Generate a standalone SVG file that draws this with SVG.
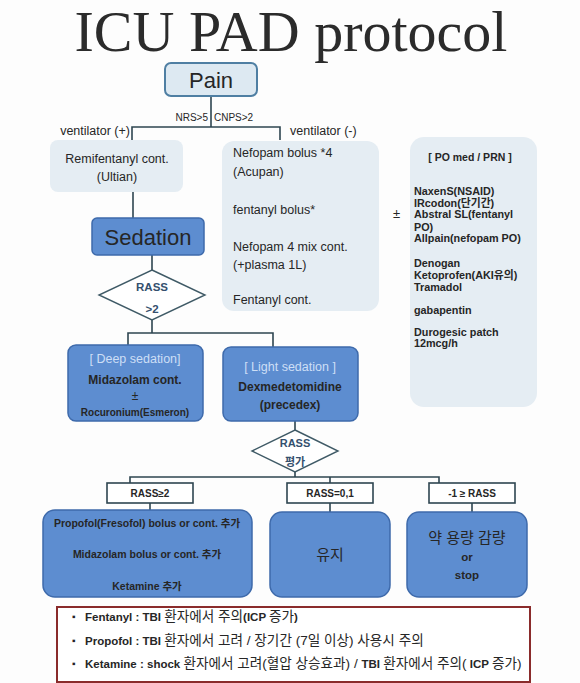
<svg xmlns="http://www.w3.org/2000/svg" width="580" height="683" viewBox="0 0 580 683">
<style>
.t{font-family:"Liberation Sans","Noto Sans CJK KR",sans-serif;fill:#262626}
.b{font-weight:bold}
.c{text-anchor:middle}
.ln{stroke:#2e4550;stroke-width:1.6;fill:none}
.light{fill:#e5edf3}
.blue{fill:#5d8dd0;stroke:#3e6aab;stroke-width:1.5}
.dia{fill:#fff;stroke:#3f5a66;stroke-width:1.4}
.cond{fill:#fff;stroke:#2e4550;stroke-width:1.6}
.k{font-weight:normal;font-size:13.6px}
</style>
<rect width="580" height="683" fill="#fdfdfd"/>
<text x="291" y="51" text-anchor="middle" font-family="Liberation Serif,serif" font-size="58" fill="#2b2b2b">ICU PAD protocol</text>

<g id="connectors">
<path class="ln" d="M211 96V127M132 140V127H280V140"/>
<path class="ln" d="M133 192V218"/>
<path class="ln" d="M152 255V270"/>
<path class="ln" d="M152 320V333M128 345V333H273V347"/>
<path class="ln" d="M295 421V430"/>
<path class="ln" d="M295 472V477M130 483V477H439V483M330 477V483"/>
<path class="ln" d="M150 503V510M330 503V512M472 503V512"/>
</g>

<g id="pain">
<rect x="165" y="63" width="92" height="33" rx="6" fill="#dde9f2" stroke="#4f7fa3" stroke-width="2"/>
<text class="t c" x="211" y="88" font-size="22">Pain</text>
</g>
<g id="labels">
<text class="t" x="208" y="121" font-size="10" text-anchor="end">NRS&gt;5</text>
<text class="t" x="214" y="121" font-size="10">CNPS&gt;2</text>
<text class="t" x="130" y="135" font-size="12.5" text-anchor="end">ventilator (+)</text>
<text class="t" x="290" y="135" font-size="12.5">ventilator (-)</text>
<text class="t" x="393" y="218" font-size="13">±</text>
</g>
<g id="remi">
<rect class="light" x="50" y="140" width="133" height="52" rx="8"/>
<text class="t c" x="117" y="163" font-size="12.5">Remifentanyl cont.</text>
<text class="t c" x="117" y="181" font-size="12.5">(Ultian)</text>
</g>
<g id="nefopam">
<rect class="light" x="222" y="141" width="157" height="170" rx="12"/>
<text class="t" x="233" y="157" font-size="12.5">Nefopam bolus *4</text>
<text class="t" x="233" y="176" font-size="12.5">(Acupan)</text>
<text class="t" x="233" y="214" font-size="12.5">fentanyl bolus*</text>
<text class="t" x="233" y="251" font-size="12.5">Nefopam 4 mix cont.</text>
<text class="t" x="233" y="269" font-size="12.5">(+plasma 1L)</text>
<text class="t" x="233" y="304" font-size="12.5">Fentanyl cont.</text>
</g>
<g id="po">
<rect class="light" x="410" y="137" width="127" height="270" rx="14"/>
<text class="t b c" x="470" y="161" font-size="10.5">[ PO med / PRN ]</text>
<text class="t b" x="414" y="195" font-size="10.8">NaxenS(NSAID)</text>
<text class="t b" x="414" y="207" font-size="10.8">IRcodon(단기간)</text>
<text class="t b" x="414" y="218" font-size="10.8">Abstral SL(fentanyl</text>
<text class="t b" x="414" y="231" font-size="10.8">PO)</text>
<text class="t b" x="414" y="242" font-size="10.8">Allpain(nefopam PO)</text>
<text class="t b" x="414" y="267" font-size="10.8">Denogan</text>
<text class="t b" x="414" y="279" font-size="10.8">Ketoprofen(AKI유의)</text>
<text class="t b" x="414" y="291" font-size="10.8">Tramadol</text>
<text class="t b" x="414" y="314" font-size="10.8">gabapentin</text>
<text class="t b" x="414" y="336" font-size="10.8">Durogesic patch</text>
<text class="t b" x="414" y="347" font-size="10.8">12mcg/h</text>
</g>
<g id="sedation">
<rect class="blue" x="92" y="218" width="112" height="37" rx="5"/>
<text class="t c" x="148" y="245" font-size="22" fill="#1f2a3a">Sedation</text>
</g>
<g id="rass1">
<polygon class="dia" points="152,270 205,295 152,320 99,295"/>
<text class="t b c" x="152" y="291" font-size="11.5" style="fill:#34506e">RASS</text>
<text class="t b c" x="152" y="313" font-size="11.5" style="fill:#34506e">&gt;2</text>
</g>
<g id="deep">
<rect class="blue" x="68" y="345" width="135" height="76" rx="8"/>
<text class="t c" x="135" y="363" font-size="12.5" style="fill:#cddff6">[ Deep sedation]</text>
<text class="t b c" x="135" y="384" font-size="12">Midazolam cont.</text>
<text class="t c" x="135" y="400" font-size="12">±</text>
<text class="t b c" x="135" y="416" font-size="10">Rocuronium(Esmeron)</text>
</g>
<g id="light">
<rect class="blue" x="223" y="347" width="135" height="74" rx="8"/>
<text class="t c" x="290" y="371" font-size="12.5" style="fill:#cddff6">[ Light sedation ]</text>
<text class="t b c" x="290" y="391" font-size="12">Dexmedetomidine</text>
<text class="t b c" x="290" y="409" font-size="12">(precedex)</text>
</g>
<g id="rass2">
<polygon class="dia" points="295,430 338,451 295,472 252,451"/>
<text class="t b c" x="295" y="447" font-size="11" style="fill:#34506e">RASS</text>
<text class="t b c" x="295" y="466" font-size="11" style="fill:#34506e">평가</text>
</g>
<g id="cond1">
<rect class="cond" x="107" y="483" width="86" height="20"/>
<text class="t b c" x="150" y="497" font-size="10">RASS≥2</text>
</g>
<g id="cond2">
<rect class="cond" x="287" y="483" width="86" height="20"/>
<text class="t b c" x="330" y="497" font-size="10">RASS=0,1</text>
</g>
<g id="cond3">
<rect class="cond" x="429" y="483" width="86" height="20"/>
<text class="t b c" x="472" y="497" font-size="10">-1 ≥ RASS</text>
</g>
<g id="add">
<rect class="blue" x="43" y="510" width="209" height="87" rx="12"/>
<text class="t b c" x="147" y="527" font-size="10.5">Propofol(Fresofol) bolus or cont. 추가</text>
<text class="t b c" x="147" y="558" font-size="10.5">Midazolam bolus or cont. 추가</text>
<text class="t b c" x="147" y="590" font-size="10.5">Ketamine 추가</text>
</g>
<g id="keep">
<rect class="blue" x="270" y="512" width="120" height="85" rx="12"/>
<text class="t c" x="330" y="560" font-size="15">유지</text>
</g>
<g id="reduce">
<rect class="blue" x="407" y="512" width="120" height="85" rx="12"/>
<text class="t c" x="467" y="543" font-size="15">약 용량 감량</text>
<text class="t b c" x="467" y="561" font-size="11.5">or</text>
<text class="t b c" x="467" y="579" font-size="11.5">stop</text>
</g>
<g id="notes">
<rect x="57" y="607" width="473" height="75" fill="#fff" stroke="#8a2b2b" stroke-width="2"/>
<text class="t b" x="72" y="620" font-size="10">▪</text>
<text class="t b" x="85" y="621" font-size="11.5">Fentanyl : TBI <tspan class="k">환자에서 주의</tspan>(ICP <tspan class="k">증가</tspan>)</text>
<text class="t b" x="72" y="644" font-size="10">▪</text>
<text class="t b" x="85" y="645" font-size="11.5">Propofol : TBI <tspan class="k">환자에서 고려 / 장기간 (7일 이상) 사용시 주의</tspan></text>
<text class="t b" x="72" y="667" font-size="10">▪</text>
<text class="t b" x="85" y="668" font-size="11.5">Ketamine : shock <tspan class="k">환자에서 고려(혈압 상승효과) / </tspan> TBI <tspan class="k">환자에서 주의(</tspan> ICP <tspan class="k">증가)</tspan></text>
</g>
</svg>
